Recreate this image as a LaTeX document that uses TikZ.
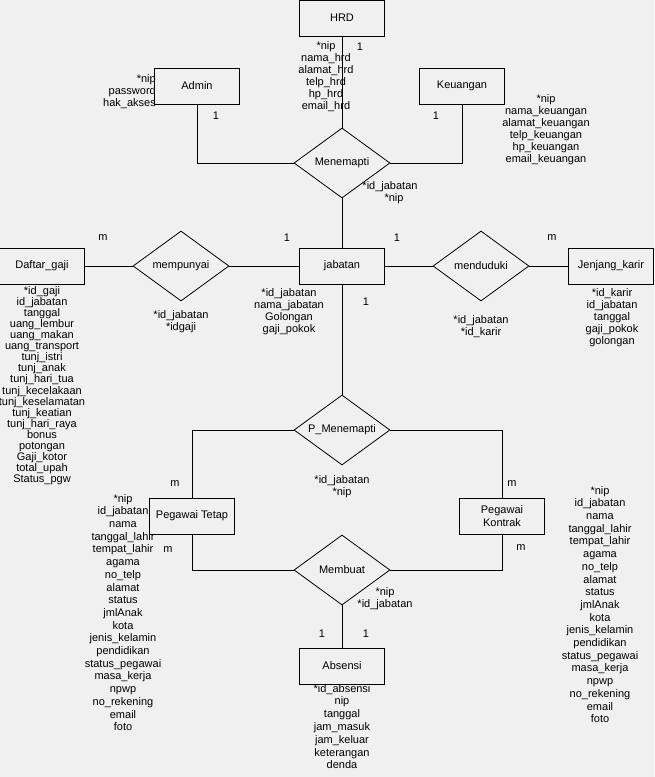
\documentclass[tikz,border=0pt]{standalone}
\usepackage{fontspec}
\setmainfont{Liberation Sans}
\usetikzlibrary{shapes.geometric}
\begin{document}
\begin{tikzpicture}[x=1pt,y=-1pt,
  ent/.style={draw,line width=1pt,minimum width=85pt,minimum height=36pt,font=\fontsize{11}{13}\selectfont,inner sep=1pt},
  rel/.style={draw,line width=0.8pt,diamond,aspect=1.37,minimum width=96pt,minimum height=70pt,inner sep=0pt,font=\fontsize{11}{13}\selectfont},
  att/.style={align=center,font=\fontsize{11}{12}\selectfont,inner sep=0pt,anchor=north},
  lab/.style={font=\fontsize{11}{13}\selectfont,inner sep=0pt},
  ln/.style={line width=0.9pt}]
\fill[gray!12] (0,0) rectangle (654,777);
\useasboundingbox (0,0) rectangle (654,777);
\node[ent] (hrd) at (342,18) {HRD};
\node[ent] (admin) at (197,86) {Admin};
\node[ent] (keu) at (462,86) {Keuangan};
\node[rel] (men) at (342,163) {Menemapti};
\node[ent] (jab) at (342,266) {jabatan};
\node[rel] (mpy) at (181,266) {mempunyai};
\node[ent] (dg) at (42,266) {Daftar\_gaji};
\node[rel] (mdd) at (481,266) {menduduki};
\node[ent] (jk) at (611,266) {Jenjang\_karir};
\node[rel] (pm) at (342,430) {P\_Menemapti};
\node[ent] (pt) at (192,516) {Pegawai Tetap};
\node[ent,align=center] (pk) at (502,516) {Pegawai\\Kontrak};
\node[rel] (mb) at (342,570) {Membuat};
\node[ent] (abs) at (342,666) {Absensi};
\draw[ln] (hrd) -- (men.north);
\draw[ln] (admin.south) |- (men.west);
\draw[ln] (keu.south) |- (men.east);
\draw[ln] (men.south) -- (jab.north);
\draw[ln] (jab) -- (mpy.east); \draw[ln] (mpy.west) -- (dg.east);
\draw[ln] (jab) -- (mdd.west); \draw[ln] (mdd.east) -- (jk.west);
\draw[ln] (jab.south) -- (pm.north);
\draw[ln] (pm.west) -| (pt.north);
\draw[ln] (pm.east) -| (pk.north);
\draw[ln] (pt.south) |- (mb.west);
\draw[ln] (pk.south) |- (mb.east);
\draw[ln] (mb.south) -- (abs.north);
% attributes
\node[att] (a1) at (326,41) {*nip\\nama\_hrd\\alamat\_hrd\\telp\_hrd\\hp\_hrd\\email\_hrd};
\node[att,align=right,anchor=north east] (a2) at (156,74) {*nip\\password\\hak\_akses};
\node[att] (a3) at (546,94) {*nip\\nama\_keuangan\\alamat\_keuangan\\telp\_keuangan\\hp\_keuangan\\email\_keuangan};
\node[att] (a4) at (390,181) {*id\_jabatan\\\hspace*{8pt}*nip};
\node[att] (a5) at (181,310) {*id\_jabatan\\*idgaji};
\node[att,font=\fontsize{11}{11.1}\selectfont] (a6) at (42,286) {*id\_gaji\\id\_jabatan\\tanggal\\uang\_lembur\\uang\_makan\\uang\_transport\\tunj\_istri\\tunj\_anak\\tunj\_hari\_tua\\tunj\_kecelakaan\\tunj\_keselamatan\\tunj\_keatian\\tunj\_hari\_raya\\bonus\\potongan\\Gaji\_kotor\\total\_upah\\Status\_pgw};
\node[att] (a7) at (289,288) {*id\_jabatan\\nama\_jabatan\\Golongan\\gaji\_pokok};
\node[att] (a8) at (481,315) {*id\_jabatan\\*id\_karir};
\node[att] (a9) at (612,288) {*id\_karir\\id\_jabatan\\tanggal\\gaji\_pokok\\golongan};
\node[att] (a10) at (342,475) {*id\_jabatan\\*nip};
\node[att,font=\fontsize{11}{12.7}\selectfont] (a11) at (123,494) {*nip\\id\_jabatan\\nama\\tanggal\_lahir\\tempat\_lahir\\agama\\no\_telp\\alamat\\status\\jmlAnak\\kota\\jenis\_kelamin\\pendidikan\\status\_pegawai\\masa\_kerja\\npwp\\no\_rekening\\email\\foto};
\node[att,font=\fontsize{11}{12.7}\selectfont] (a12) at (600,486) {*nip\\id\_jabatan\\nama\\tanggal\_lahir\\tempat\_lahir\\agama\\no\_telp\\alamat\\status\\jmlAnak\\kota\\jenis\_kelamin\\pendidikan\\status\_pegawai\\masa\_kerja\\npwp\\no\_rekening\\email\\foto};
\node[att] (a13) at (385,587) {*nip\\*id\_jabatan};
\node[att,font=\fontsize{11}{12.8}\selectfont] (a14) at (342,684) {*id\_absensi\\nip\\tanggal\\jam\_masuk\\jam\_keluar\\keterangan\\denda};
% multiplicities
\node[lab] (m1) at (360,47) {1};
\node[lab] (m2) at (216,116) {1};
\node[lab] (m3) at (436,116) {1};
\node[lab] (m4) at (287,238) {1};
\node[lab] (m5) at (397,238) {1};
\node[lab] (m6) at (366,302) {1};
\node[lab] (m7) at (103,238) {m};
\node[lab] (m8) at (552,238) {m};
\node[lab] (m9) at (175,484) {m};
\node[lab] (m10) at (512,484) {m};
\node[lab] (m11) at (168,550) {m};
\node[lab] (m12) at (521,548) {m};
\node[lab] (m13) at (322,634) {1};
\node[lab] (m14) at (366,634) {1};
\end{tikzpicture}
\end{document}
